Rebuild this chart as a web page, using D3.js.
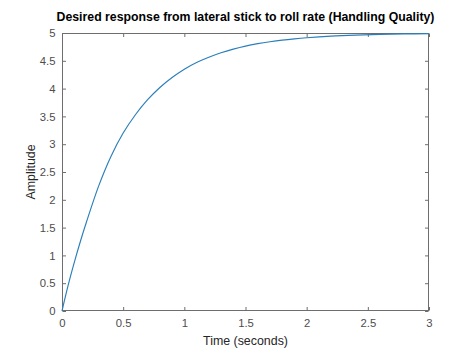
<!DOCTYPE html>
<html><head><meta charset="utf-8">
<script src="https://cdn.jsdelivr.net/npm/d3@7"></script>
<style>
body{margin:0;background:#fff;}
text{font-family:"Liberation Sans",Arial,Helvetica,sans-serif;}
</style></head>
<body><svg id="c" width="474" height="355"></svg>
<script>
const titleText = "Desired response from lateral stick to roll rate (Handling Quality)";
const xLabel = "Time (seconds)";
const yLabel = "Amplitude";
const timeValues = [0,0.05,0.1,0.15,0.2,0.3,0.4,0.5,0.6,0.7,0.8,0.9,1.0,1.1,1.2,1.3,1.4,1.5,1.6,1.7,1.8,1.9,2.0,2.2,2.4,2.6,2.8,3.0];
const amplitudeValues = [0,0.46,0.87,1.25,1.6,2.25,2.78,3.2,3.53,3.8,4.02,4.2,4.35,4.47,4.565,4.645,4.71,4.765,4.808,4.843,4.872,4.895,4.914,4.943,4.962,4.975,4.983,4.989];
const xTicks = [0,0.5,1,1.5,2,2.5,3];
const xTickLabels = ["0","0.5","1","1.5","2","2.5","3"];
const yTicks = [0,0.5,1,1.5,2,2.5,3,3.5,4,4.5,5];
const yTickLabels = ["0","0.5","1","1.5","2","2.5","3","3.5","4","4.5","5"];

const svg = d3.select("#c");
const L=62, R=429, T=33, B=311;
const x = d3.scaleLinear().domain([0,3]).range([L,R]);
const y = d3.scaleLinear().domain([0,5]).range([B,T]);
const axisColor = "#4d4d4d";
const tickLen = 3.5;

svg.append("rect").attr("x",L+0.5).attr("y",T+0.5).attr("width",R-L-1).attr("height",B-T-1)
  .attr("fill","none").attr("stroke","#6e6e6e").attr("stroke-width",1);

const xa = svg.append("g").attr("transform",`translate(0,${B-0.5})`)
  .call(d3.axisBottom(x).tickValues(xTicks).tickFormat((d,i)=>xTickLabels[i]).tickSizeInner(-tickLen).tickSizeOuter(0).tickPadding(8));
const xt = svg.append("g").attr("transform",`translate(0,${T+0.5})`)
  .call(d3.axisTop(x).tickValues(xTicks).tickFormat("").tickSizeInner(-tickLen).tickSizeOuter(0));
const ya = svg.append("g").attr("transform",`translate(${L+0.5},0)`)
  .call(d3.axisLeft(y).tickValues(yTicks).tickFormat((d,i)=>yTickLabels[i]).tickSizeInner(-tickLen).tickSizeOuter(0).tickPadding(7));
const yr = svg.append("g").attr("transform",`translate(${R-0.5},0)`)
  .call(d3.axisRight(y).tickValues(yTicks).tickFormat("").tickSizeInner(-tickLen).tickSizeOuter(0));
[xa,xt,ya,yr].forEach(g=>{
  g.select(".domain").remove();
  g.selectAll("line").attr("stroke","#6e6e6e");
  g.selectAll("text").attr("fill",axisColor).attr("font-size","11.3px")
   .style("font-family","'Liberation Sans',Arial,sans-serif");
});

const line = d3.line().x((d,i)=>x(timeValues[i])).y(d=>y(d)).curve(d3.curveCatmullRom.alpha(0.5));
svg.append("path").datum(amplitudeValues).attr("d",line)
  .attr("fill","none").attr("stroke","#2a7fba").attr("stroke-width",1.15);

svg.append("text").attr("x",(L+R)/2).attr("y",21).attr("text-anchor","middle")
  .attr("font-size","12.3px").attr("font-weight","bold").attr("fill","#000").text(titleText);
svg.append("text").attr("x",(L+R)/2).attr("y",345).attr("text-anchor","middle")
  .attr("font-size","12.4px").attr("fill","#262626").text(xLabel);
svg.append("text").attr("transform",`translate(35,${(T+B)/2}) rotate(-90)`).attr("text-anchor","middle")
  .attr("font-size","12.4px").attr("fill","#262626").text(yLabel);
</script></body></html>
